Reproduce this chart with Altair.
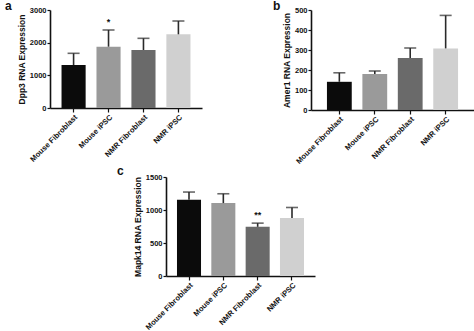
import altair as alt
import pandas as pd

groups = ["Mouse Fibroblast", "Mouse iPSC", "NMR Fibroblast", "NMR iPSC"]
colors = ["#0b0b0b", "#9a9a9a", "#6a6a6a", "#d0d0d0"]

dpp3_mean = [1316, 1877, 1776, 2256]
dpp3_sd = [358, 511, 357, 407]
dpp3_sig = ["", "*", "", ""]

amer1_mean = [141, 180, 260, 308]
amer1_sd = [45, 15, 50, 165]
amer1_sig = ["", "", "", ""]

mapk14_mean = [1155, 1105, 745, 877]
mapk14_sd = [117, 141, 56, 161]
mapk14_sig = ["", "", "**", ""]

FONT = "Liberation Sans"


def panel(mean, sd, sig, ytitle, ymax, ystep, w, h, pi, po, letter, lx, ly):
    df = pd.DataFrame({
        "group": groups,
        "mean": mean,
        "upper": [m + s for m, s in zip(mean, sd)],
        "sig": sig,
    })
    xscale = alt.Scale(domain=groups, paddingInner=pi, paddingOuter=po)
    yscale = alt.Scale(domain=[0, ymax], nice=False)
    xaxis = alt.Axis(title=None, labelAngle=-45, labelFont=FONT, labelFontWeight="bold",
                     labelFontSize=7.6, labelColor="#111", tickSize=4, tickColor="#111",
                     tickWidth=1.2, domainColor="#111", domainWidth=1.6, labelPadding=1,
                     labelOverlap=False)
    yaxis = alt.Axis(title=ytitle, values=list(range(0, ymax + 1, ystep)), grid=False,
                     format="d", labelOverlap=False, labelFlush=False,
                     labelFont=FONT, labelFontWeight="bold", labelFontSize=7.5,
                     labelColor="#111", tickSize=3, tickColor="#111", tickWidth=1.2,
                     domainColor="#111", domainWidth=1.6, labelPadding=1,
                     titleFont=FONT, titleFontWeight="bold", titleFontSize=8.5,
                     titleColor="#111", titlePadding=3)
    xe = alt.X("group:N", sort=groups, scale=xscale, axis=xaxis)
    base = alt.Chart(df)
    bars = base.mark_bar().encode(
        x=xe, y=alt.Y("mean:Q", scale=yscale, axis=yaxis),
        color=alt.Color("group:N", scale=alt.Scale(domain=groups, range=colors), legend=None))
    rule = base.mark_rule(color="#2a2a2a", strokeWidth=1.6).encode(
        x=xe, y=alt.Y("mean:Q", scale=yscale, axis=yaxis), y2="upper:Q")
    cap = base.mark_tick(color="#2a2a2a", thickness=1.6, size=12).encode(
        x=xe, y=alt.Y("upper:Q", scale=yscale, axis=yaxis))
    star = base.mark_text(font=FONT, fontWeight="bold", fontSize=9, dy=-3,
                          baseline="bottom", color="#111").encode(
        x=xe, y=alt.Y("upper:Q", scale=yscale, axis=yaxis), text="sig:N")
    lab = alt.Chart(pd.DataFrame({"t": [letter]})).mark_text(
        font=FONT, fontWeight="bold", fontSize=12, align="left", baseline="alphabetic",
        color="#111").encode(text="t:N", x=alt.value(lx), y=alt.value(ly))
    return alt.layer(bars, rule, cap, star, lab).properties(width=w, height=h)


a = panel(dpp3_mean, dpp3_sd, dpp3_sig, "Dpp3 RNA Expression", 3000, 1000,
          152, 98, 0.31, 0.33, "a", -45, 0)
b = panel(amer1_mean, amer1_sd, amer1_sig, "Amer1 RNA Expression", 500, 100,
          163, 100, 0.3, 0.45, "b", -38, 0)
c = panel(mapk14_mean, mapk14_sd, mapk14_sig, "Mapk14 RNA Expression", 1500, 500,
          149, 99, 0.3, 0.32, "c", -49, -2)

spacer = alt.Chart(pd.DataFrame({"v": [0]})).mark_point(opacity=0).encode(
    x=alt.X("v:Q", axis=None), y=alt.Y("v:Q", axis=None)).properties(width=116, height=1)

top = alt.hconcat(a, b, spacing=109, bounds="flush")
bottom = alt.hconcat(spacer, c, spacing=0, bounds="flush")
chart = alt.vconcat(top, bottom, spacing=167, bounds="flush").properties(
    padding={"left": 5, "top": 0, "right": 0, "bottom": 0}, background="white"
).configure_view(stroke=None)

chart.save("out.html", embed_options={"renderer": "svg", "actions": False})
